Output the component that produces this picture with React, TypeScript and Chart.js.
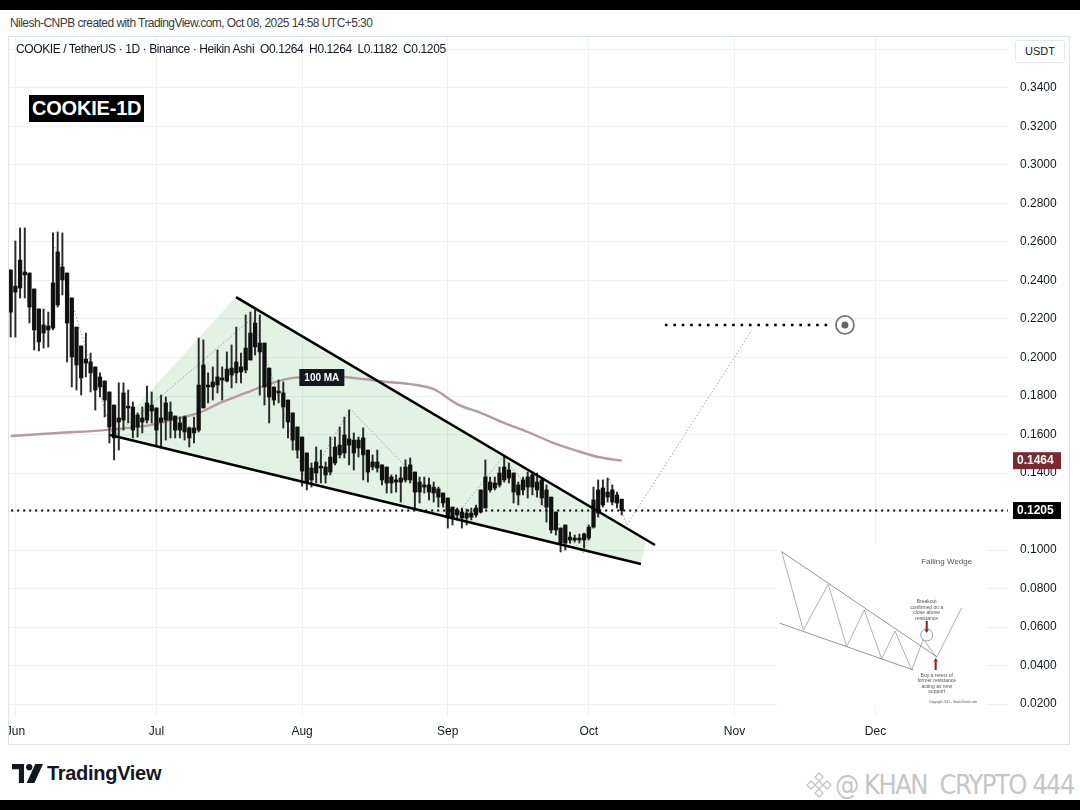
import React, { useEffect, useRef } from 'react';
import { Chart, registerables } from 'chart.js';
Chart.register(...registerables);

// ---------- DATA ----------
// Daily Heikin Ashi candles, COOKIE/USDT, from 2025-05-31 (index 0) to 2025-10-08 (index 130)
const candleStart = '2025-05-31';
const open = [
  0.2455, 0.2371, 0.2361, 0.2444, 0.2439, 0.2356, 0.2252, 0.2169, 0.2164, 0.2153,
  0.2273, 0.2470, 0.2439, 0.2309, 0.2158, 0.2060, 0.1992, 0.1977, 0.1951, 0.1899,
  0.1878, 0.1821, 0.1753, 0.1686, 0.1675, 0.1743, 0.1743, 0.1701, 0.1686, 0.1675,
  0.1753, 0.1738, 0.1686, 0.1675, 0.1717, 0.1696, 0.1660, 0.1691, 0.1634, 0.1608,
  0.1623, 0.1738, 0.1857, 0.1847, 0.1857, 0.1894, 0.1878, 0.1909, 0.1920, 0.1951,
  0.1935, 0.1987, 0.2055, 0.2075, 0.2075, 0.1945, 0.1847, 0.1821, 0.1816, 0.1779,
  0.1712, 0.1639, 0.1587, 0.1504, 0.1426, 0.1400, 0.1431, 0.1431, 0.1405, 0.1452,
  0.1494, 0.1504, 0.1577, 0.1571, 0.1571, 0.1582, 0.1519, 0.1457, 0.1457, 0.1442,
  0.1431, 0.1379, 0.1364, 0.1374, 0.1364, 0.1442, 0.1405, 0.1353, 0.1338, 0.1338,
  0.1327, 0.1317, 0.1296, 0.1270, 0.1223, 0.1208, 0.1197, 0.1192, 0.1171, 0.1182,
  0.1197, 0.1218, 0.1353, 0.1322, 0.1338, 0.1364, 0.1416, 0.1400, 0.1338, 0.1312,
  0.1327, 0.1390, 0.1353, 0.1364, 0.1312, 0.1275, 0.1197, 0.1114, 0.1130, 0.1067,
  0.1062, 0.1052, 0.1052, 0.1062, 0.1119, 0.1192, 0.1322, 0.1301, 0.1312, 0.1286,
  0.1264,
];
const high = [
  0.2455, 0.2605, 0.2673, 0.2673, 0.2439, 0.2356, 0.2252, 0.2252, 0.2236, 0.2647,
  0.2652, 0.2647, 0.2439, 0.2309, 0.2158, 0.2060, 0.2127, 0.2023, 0.1951, 0.1920,
  0.1878, 0.1821, 0.1753, 0.1868, 0.1868, 0.1831, 0.1769, 0.1712, 0.1743, 0.1852,
  0.1821, 0.1738, 0.1805, 0.1795, 0.1769, 0.1696, 0.1691, 0.1696, 0.1639, 0.1691,
  0.2101, 0.2091, 0.1920, 0.1951, 0.2039, 0.1951, 0.2029, 0.2065, 0.2158, 0.2023,
  0.2221, 0.2236, 0.2247, 0.2221, 0.2075, 0.1945, 0.1847, 0.1883, 0.1873, 0.1779,
  0.1712, 0.1639, 0.1587, 0.1504, 0.1452, 0.1535, 0.1519, 0.1457, 0.1587, 0.1587,
  0.1639, 0.1691, 0.1727, 0.1608, 0.1587, 0.1634, 0.1519, 0.1494, 0.1519, 0.1442,
  0.1431, 0.1390, 0.1390, 0.1431, 0.1468, 0.1478, 0.1405, 0.1379, 0.1379, 0.1374,
  0.1353, 0.1327, 0.1296, 0.1270, 0.1223, 0.1218, 0.1218, 0.1213, 0.1218, 0.1234,
  0.1312, 0.1468, 0.1379, 0.1379, 0.1431, 0.1483, 0.1452, 0.1400, 0.1353, 0.1379,
  0.1405, 0.1400, 0.1400, 0.1374, 0.1338, 0.1275, 0.1197, 0.1114, 0.1130, 0.1093,
  0.1078, 0.1083, 0.1088, 0.1130, 0.1327, 0.1364, 0.1364, 0.1374, 0.1338, 0.1301,
  0.1264,
];
const low = [
  0.2106, 0.2106, 0.2309, 0.2309, 0.2179, 0.2039, 0.2034, 0.2049, 0.2054, 0.2143,
  0.2262, 0.2325, 0.1977, 0.1847, 0.1831, 0.1805, 0.1899, 0.1821, 0.1727, 0.1795,
  0.1691, 0.1556, 0.1468, 0.1519, 0.1623, 0.1660, 0.1582, 0.1587, 0.1608, 0.1660,
  0.1660, 0.1540, 0.1535, 0.1571, 0.1582, 0.1582, 0.1582, 0.1571, 0.1535, 0.1556,
  0.1613, 0.1738, 0.1764, 0.1779, 0.1816, 0.1779, 0.1873, 0.1842, 0.1868, 0.1868,
  0.1920, 0.1987, 0.2013, 0.1805, 0.1753, 0.1660, 0.1753, 0.1764, 0.1634, 0.1582,
  0.1519, 0.1478, 0.1332, 0.1312, 0.1327, 0.1348, 0.1348, 0.1348, 0.1390, 0.1442,
  0.1478, 0.1478, 0.1442, 0.1416, 0.1483, 0.1364, 0.1353, 0.1416, 0.1405, 0.1338,
  0.1296, 0.1296, 0.1301, 0.1249, 0.1353, 0.1348, 0.1218, 0.1244, 0.1296, 0.1260,
  0.1249, 0.1223, 0.1223, 0.1114, 0.1130, 0.1156, 0.1114, 0.1130, 0.1156, 0.1171,
  0.1192, 0.1218, 0.1301, 0.1312, 0.1327, 0.1353, 0.1348, 0.1244, 0.1234, 0.1286,
  0.1270, 0.1286, 0.1275, 0.1234, 0.1145, 0.1088, 0.1078, 0.0990, 0.1000, 0.1036,
  0.1042, 0.1036, 0.1010, 0.1052, 0.1114, 0.1171, 0.1223, 0.1249, 0.1234, 0.1218,
  0.1182,
];
const close = [
  0.2236, 0.2340, 0.2506, 0.2429, 0.2262, 0.2143, 0.2081, 0.2127, 0.2143, 0.2387,
  0.2548, 0.2403, 0.2179, 0.2003, 0.1961, 0.1894, 0.1971, 0.1920, 0.1831, 0.1847,
  0.1779, 0.1639, 0.1582, 0.1665, 0.1816, 0.1738, 0.1623, 0.1639, 0.1665, 0.1764,
  0.1722, 0.1623, 0.1665, 0.1764, 0.1675, 0.1623, 0.1623, 0.1613, 0.1582, 0.1634,
  0.1857, 0.1961, 0.1847, 0.1873, 0.1899, 0.1883, 0.1940, 0.1945, 0.1977, 0.1925,
  0.2049, 0.2127, 0.2179, 0.2029, 0.1847, 0.1795, 0.1779, 0.1816, 0.1743, 0.1665,
  0.1571, 0.1519, 0.1410, 0.1348, 0.1364, 0.1457, 0.1426, 0.1390, 0.1483, 0.1535,
  0.1545, 0.1597, 0.1545, 0.1504, 0.1530, 0.1494, 0.1405, 0.1431, 0.1426, 0.1364,
  0.1348, 0.1348, 0.1353, 0.1353, 0.1431, 0.1364, 0.1301, 0.1301, 0.1327, 0.1301,
  0.1296, 0.1275, 0.1244, 0.1166, 0.1166, 0.1182, 0.1166, 0.1166, 0.1192, 0.1218,
  0.1312, 0.1379, 0.1312, 0.1348, 0.1400, 0.1431, 0.1374, 0.1301, 0.1286, 0.1364,
  0.1379, 0.1327, 0.1312, 0.1270, 0.1223, 0.1104, 0.1104, 0.1036, 0.1036, 0.1052,
  0.1052, 0.1062, 0.1083, 0.1119, 0.1260, 0.1312, 0.1234, 0.1275, 0.1249, 0.1244,
  0.1205,
];
const dayIndex = open.map((_, i) => i);

// Month ticks (day index from candleStart)
const monthTickIdx = [1, 31, 62, 93, 123, 154, 184];
const monthLabels = ['Jun', 'Jul', 'Aug', 'Sep', 'Oct', 'Nov', 'Dec'];

// 100 MA readings (day index, price)
const maIdx = [0, 10, 20, 30, 35, 40, 45, 50, 55, 60, 65, 70, 75, 80, 85, 90, 95, 100, 105, 110, 115, 120, 125, 130];
const maVal = [0.1592, 0.1608, 0.1623, 0.1650, 0.1681, 0.1712, 0.1769, 0.1816, 0.1862, 0.1894, 0.1899, 0.1899,
  0.1888, 0.1873, 0.1862, 0.1836, 0.1758, 0.1712, 0.1660, 0.1613, 0.1561, 0.1519, 0.1483, 0.1464];

// Falling wedge drawing
const wedgeUpperX = [47.94, 137.08];
const wedgeUpperY = [0.2314, 0.1026];
const wedgeLowerX = [21.15, 134.1];
const wedgeLowerY = [0.1597, 0.0927];
const wedgeFillX = [21.15, 47.94, 135.2, 134.1, 21.15];
const wedgeFillY = [0.1597, 0.2314, 0.1053, 0.0927, 0.1597];
// wave path (dotted) inside the wedge and projection
const waveX = [9.4, 21.8, 51.5, 63.0, 72.2, 94.5, 104.7, 121.8, 127.3, 131.1, 157.7];
const waveY = [0.2574, 0.1587, 0.2205, 0.1348, 0.1732, 0.1171, 0.1483, 0.0984, 0.1374, 0.1130, 0.2143];
// target
const targetLineX = [139.2, 174.7];
const targetPrice = 0.2169;
const targetCircleX = 177.5;
const lastClose = 0.1205;
const maLast = 0.1464;
const maLabelPos = [66.2, 0.1896];

// Inset "Falling Wedge" diagram (own unit space 0..210 x 0..161, y downward)
const insetUpperX = [4.7, 159.7];
const insetUpperY = [6.7, 111.7];
const insetLowerX = [3, 136.3];
const insetLowerY = [78.3, 125];
const insetWaveX = [4.7, 26.3, 51.3, 69.7, 87.3, 104.7, 118, 134.7, 146.3, 159.7, 184.7];
const insetWaveY = [6.7, 85, 39.3, 101.7, 65, 114, 86, 125, 94.3, 112.3, 62.7];
const insetCircle = [149.7, 90];
const insetDownArrow = [149.7, 76, 84];
const insetUpArrow = [158.7, 125, 117];
const insetTexts: [string, number, number, number][] = [
  ['Falling Wedge', 169.7, 17, 8],
  ['Breakout', 149.7, 57, 5],
  ['confirmed on a', 149.7, 62.5, 5],
  ['close above', 149.7, 68, 5],
  ['resistance', 149.7, 73.5, 5],
  ['Buy a retest of', 159.7, 130.5, 5],
  ['former resistance', 159.7, 136, 5],
  ['acting as new', 159.7, 141.5, 5],
  ['support', 159.7, 147, 5],
  ['Copyright 2011 - StockCharts.com', 176, 157, 3.2],
];

const FONT = '"Liberation Sans", Arial, sans-serif';

export default function App() {
  const mainRef = useRef<HTMLCanvasElement>(null);
  const insetRef = useRef<HTMLCanvasElement>(null);

  useEffect(() => {
    document.body.style.margin = '0';
    const pts = (xs: number[], ys: number[]) => xs.map((x, i) => ({ x, y: ys[i] }));

    const overlay = {
      id: 'overlay',
      afterDatasetsDraw(chart: any) {
        const { ctx, scales, chartArea } = chart;
        const x = scales.x, y = scales.y;
        ctx.save();
        // 100 MA label
        const lx = x.getPixelForValue(maLabelPos[0]);
        const ly = y.getPixelForValue(maLabelPos[1]);
        ctx.font = `bold 10px ${FONT}`;
        const w = ctx.measureText('100 MA').width + 10;
        ctx.fillStyle = '#131722';
        ctx.fillRect(lx - w / 2, ly - 8.5, w, 17);
        ctx.fillStyle = '#ffffff';
        ctx.textAlign = 'center';
        ctx.textBaseline = 'middle';
        ctx.fillText('100 MA', lx, ly + 0.5);
        // price tags on the axis
        const tags: [number, string][] = [[maLast, '#7b2a32'], [lastClose, '#000000']];
        ctx.font = `bold 12px ${FONT}`;
        ctx.textAlign = 'left';
        for (const [v, col] of tags) {
          const py = y.getPixelForValue(v);
          ctx.fillStyle = col;
          ctx.fillRect(chartArea.right + 5, py - 8.5, 48, 17);
          ctx.fillStyle = '#ffffff';
          ctx.fillText(v.toFixed(4), chartArea.right + 9, py + 0.5);
        }
        ctx.restore();
      },
    };

    const main = new Chart(mainRef.current as HTMLCanvasElement, {
      type: 'bar',
      data: {
        datasets: [
          {
            type: 'line', label: 'target circle', data: [{ x: targetCircleX, y: targetPrice }],
            showLine: false, pointRadius: 9, pointBorderWidth: 1.8, pointBorderColor: '#787878',
            pointBackgroundColor: 'rgba(255,255,255,0)', order: 1,
          } as any,
          {
            type: 'line', label: 'target dot', data: [{ x: targetCircleX, y: targetPrice }],
            showLine: false, pointRadius: 3.5, pointBorderWidth: 0, pointBackgroundColor: '#666666', order: 1,
          } as any,
          {
            type: 'line', label: 'target', data: targetLineX.map((x) => ({ x, y: targetPrice })),
            borderColor: '#000000', borderWidth: 2.6, borderDash: [2.6, 5.8], pointRadius: 0, order: 2,
          } as any,
          {
            type: 'line', label: 'last', data: [{ x: -5, y: lastClose }, { x: 230, y: lastClose }],
            borderColor: '#000000', borderWidth: 2, borderDash: [2, 4], pointRadius: 0, order: 3,
          } as any,
          {
            type: 'line', label: 'upper', data: pts(wedgeUpperX, wedgeUpperY),
            borderColor: '#000000', borderWidth: 2.6, pointRadius: 0, order: 4,
          } as any,
          {
            type: 'line', label: 'lower', data: pts(wedgeLowerX, wedgeLowerY),
            borderColor: '#000000', borderWidth: 2.6, pointRadius: 0, order: 4,
          } as any,
          {
            type: 'bar', label: 'body',
            data: dayIndex.map((i) => ({ x: i, y: [open[i], close[i]] })),
            backgroundColor: '#111111', barThickness: 3.6, minBarLength: 1.8, grouped: false, order: 5,
          } as any,
          {
            type: 'bar', label: 'wick',
            data: dayIndex.map((i) => ({ x: i, y: [low[i], high[i]] })),
            backgroundColor: '#2a2a2a', barThickness: 1.3, grouped: false, order: 6,
          } as any,
          {
            type: 'line', label: 'wave', data: pts(waveX, waveY),
            borderColor: '#a0a0a0', borderWidth: 1, borderDash: [1.5, 2], pointRadius: 0, order: 7,
          } as any,
          {
            type: 'line', label: 'MA 100', data: pts(maIdx, maVal),
            borderColor: '#b49ca1', borderWidth: 2.4, pointRadius: 0, tension: 0.4,
            cubicInterpolationMode: 'monotone', order: 8,
          } as any,
          {
            type: 'line', label: 'wedge fill', data: pts(wedgeFillX, wedgeFillY),
            borderWidth: 0, borderColor: 'rgba(0,0,0,0)', backgroundColor: 'rgba(76,175,80,0.16)',
            fill: 'shape', pointRadius: 0, order: 9,
          } as any,
        ],
      },
      options: {
        animation: false,
        responsive: false,
        events: [],
        layout: { padding: 0, autoPadding: false } as any,
        plugins: { legend: { display: false }, tooltip: { enabled: false } },
        scales: {
          x: {
            type: 'linear', min: -0.57, max: 212.19, offset: false,
            grid: { color: '#eef0f4', drawTicks: false, offset: false },
            border: { display: false },
            afterBuildTicks: (s: any) => { s.ticks = monthTickIdx.map((v) => ({ value: v })); },
            afterFit: (s: any) => { s.height = 29; s.paddingLeft = 0; s.paddingRight = 0; s.paddingTop = 0; s.paddingBottom = 0; },
            ticks: {
              autoSkip: false, maxRotation: 0, padding: 8, color: '#131722',
              font: { family: FONT, size: 12 },
              callback: (v: any) => { const k = monthTickIdx.indexOf(Number(v)); return k >= 0 ? monthLabels[k] : ''; },
            },
          },
          y: {
            type: 'linear', position: 'right', min: 0.01377, max: 0.36701,
            grid: { color: '#eef0f4', drawTicks: false },
            border: { display: false },
            afterFit: (s: any) => { s.width = 62; s.paddingLeft = 0; s.paddingRight = 0; s.paddingTop = 0; s.paddingBottom = 0; },
            ticks: {
              stepSize: 0.02, includeBounds: false, padding: 12, color: '#131722',
              font: { family: FONT, size: 12 },
              callback: (v: any) => (Number(v) > 0.35 ? '' : Number(v).toFixed(4)),
            },
          },
        },
      } as any,
      plugins: [overlay],
    });

    const insetText = {
      id: 'insetText',
      afterDatasetsDraw(chart: any) {
        const { ctx, scales } = chart;
        ctx.save();
        ctx.fillStyle = '#555555';
        ctx.textAlign = 'center';
        ctx.textBaseline = 'middle';
        for (const [t, x, y, size] of insetTexts) {
          ctx.font = `${size}px ${FONT}`;
          ctx.fillText(t, scales.x.getPixelForValue(x), scales.y.getPixelForValue(y));
        }
        ctx.restore();
      },
    };

    const inset = new Chart(insetRef.current as HTMLCanvasElement, {
      type: 'scatter',
      data: {
        datasets: [
          { data: [{ x: insetDownArrow[0], y: insetDownArrow[2] + 1.5 }], pointStyle: 'triangle', rotation: 180, pointRadius: 2.6, pointBackgroundColor: '#8b1d1d', pointBorderWidth: 0 } as any,
          { data: [{ x: insetDownArrow[0], y: insetDownArrow[1] }, { x: insetDownArrow[0], y: insetDownArrow[2] }], showLine: true, borderColor: '#8b1d1d', borderWidth: 2, pointRadius: 0 } as any,
          { data: [{ x: insetUpArrow[0], y: insetUpArrow[2] - 1.5 }], pointStyle: 'triangle', pointRadius: 2.6, pointBackgroundColor: '#8b1d1d', pointBorderWidth: 0 } as any,
          { data: [{ x: insetUpArrow[0], y: insetUpArrow[1] }, { x: insetUpArrow[0], y: insetUpArrow[2] }], showLine: true, borderColor: '#8b1d1d', borderWidth: 2, pointRadius: 0 } as any,
          { data: [{ x: insetCircle[0], y: insetCircle[1] }], pointRadius: 6, pointBorderColor: '#888888', pointBorderWidth: 0.8, pointBackgroundColor: 'rgba(255,255,255,0)' } as any,
          { data: pts(insetUpperX, insetUpperY), showLine: true, borderColor: '#8a8a8a', borderWidth: 0.9, pointRadius: 0 } as any,
          { data: pts(insetLowerX, insetLowerY), showLine: true, borderColor: '#8a8a8a', borderWidth: 0.9, pointRadius: 0 } as any,
          { data: pts(insetWaveX, insetWaveY), showLine: true, borderColor: '#9a9a9a', borderWidth: 0.8, pointRadius: 0 } as any,
        ],
      },
      options: {
        animation: false,
        responsive: false,
        events: [],
        layout: { padding: 0, autoPadding: false } as any,
        plugins: { legend: { display: false }, tooltip: { enabled: false } },
        scales: {
          x: { type: 'linear', min: 0, max: 210, display: false },
          y: { type: 'linear', min: 0, max: 161, reverse: true, display: false },
        },
      } as any,
      plugins: [insetText],
    });

    return () => { main.destroy(); inset.destroy(); };
  }, []);

  const abs = (s: React.CSSProperties): React.CSSProperties => ({ position: 'absolute', ...s });

  return (
    <div style={{ position: 'relative', width: 1080, height: 810, background: '#ffffff', overflow: 'hidden', fontFamily: FONT }}>
      <div style={abs({ left: 0, top: 0, width: 1080, height: 10, background: '#000' })} />
      <div style={abs({ left: 10, top: 16, fontSize: 12, color: '#3a3a3a', whiteSpace: 'nowrap', lineHeight: '14px', letterSpacing: -0.55 })}>
        Nilesh-CNPB created with TradingView.com, Oct 08, 2025 14:58 UTC+5:30
      </div>
      <div style={abs({ left: 8, top: 36, width: 1062, height: 709 })}>
        <canvas ref={mainRef} width={1062} height={709} style={{ display: 'block' }} />
      </div>
      <div style={abs({ left: 8, top: 36, width: 1060, height: 707, border: '1px solid #e0e3eb', pointerEvents: 'none' })} />
      <div style={abs({ left: 16, top: 42, fontSize: 12, color: '#131722', whiteSpace: 'pre', lineHeight: '14px', letterSpacing: -0.4 })}>
        {'COOKIE / TetherUS · 1D · Binance · Heikin Ashi  O0.1264  H0.1264  L0.1182  C0.1205'}
      </div>
      <div style={abs({ left: 29, top: 95, height: 27, padding: '0 3px', background: '#000', color: '#fff', fontSize: 20, fontWeight: 'bold', lineHeight: '27px', letterSpacing: -0.2 })}>
        COOKIE-1D
      </div>
      <div style={abs({ left: 1015, top: 40, width: 50, height: 23, border: '1px solid #e6e8ee', borderRadius: 3, boxSizing: 'border-box', fontSize: 11, color: '#131722', textAlign: 'center', lineHeight: '21px', background: '#fff' })}>
        USDT
      </div>
      <div style={abs({ left: 777, top: 545, width: 210, height: 161, background: '#fff' })}>
        <canvas ref={insetRef} width={210} height={161} style={{ display: 'block' }} />
      </div>
      <div style={abs({ left: 12, top: 762, display: 'flex', alignItems: 'center' })}>
        <svg width="31" height="19" viewBox="0 0 36 22">
          <path d="M0 0 H14 V22 H8 V6 H0 Z" fill="#131722" />
          <circle cx="20" cy="3.6" r="3.6" fill="#131722" />
          <path d="M27 0 H36 L26 22 H17 Z" fill="#131722" />
        </svg>
        <span style={{ marginLeft: 4, fontSize: 20, fontWeight: 'bold', color: '#131722', letterSpacing: -0.3 }}>TradingView</span>
      </div>
      <div style={abs({ left: 806, top: 770, display: 'flex', alignItems: 'center', color: '#c6c6c6' })}>
        <svg width="26" height="28" viewBox="0 0 26 28">
          <g fill="none" stroke="#c6c6c6" strokeWidth="1.3">
            <path d="M13 2 L17 6 L13 10 L9 6 Z" />
            <path d="M5 10 L9 14 L5 18 L1 14 Z" />
            <path d="M21 10 L25 14 L21 18 L17 14 Z" />
            <path d="M13 10 L17 14 L13 18 L9 14 Z" />
            <path d="M13 18 L17 22 L13 26 L9 22 Z" />
          </g>
        </svg>
        <span style={{ marginLeft: 3, fontSize: 27, fontFamily: '"DejaVu Sans Condensed", "DejaVu Sans", sans-serif', fontWeight: 300, letterSpacing: -1.5, whiteSpace: 'pre', lineHeight: '30px' }}>
          {'@ KHAN  CRYPTO 444'}
        </span>
      </div>
      <div style={abs({ left: 0, top: 800, width: 1080, height: 10, background: '#000' })} />
    </div>
  );
}
